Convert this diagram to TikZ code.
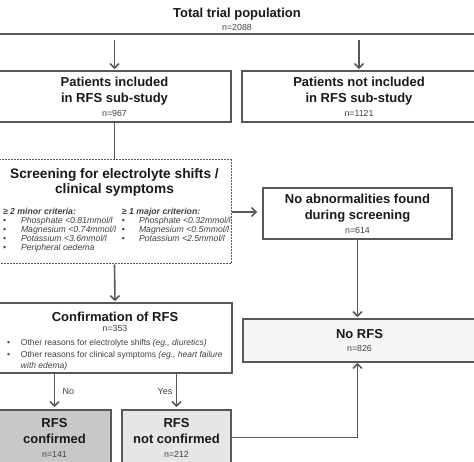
\documentclass[tikz,border=0pt]{standalone}
\usepackage{fontspec}
\setmainfont{Liberation Sans}
\usepackage{tikz}
\usetikzlibrary{arrows.meta}
\definecolor{linegray}{RGB}{88,88,88}
\definecolor{textdark}{RGB}{25,25,25}
\definecolor{textmid}{RGB}{65,65,65}
\definecolor{fillrfs}{RGB}{200,200,200}
\definecolor{fillnot}{RGB}{230,230,230}
\definecolor{fillno}{RGB}{245,245,245}
\newcommand{\boxtitle}{\fontsize{13}{15.5}\selectfont\bfseries\color{textdark}}
\newcommand{\nsize}{\fontsize{8.8}{10}\selectfont\mdseries\color{textmid}}
\newcommand{\itemsize}{\fontsize{8.7}{9}\selectfont\color{textmid}}
\newcommand{\confsize}{\fontsize{8.5}{10.3}\selectfont\color{textmid}}

\begin{document}
\begin{tikzpicture}[x=1pt, y=-1pt,
  flowbox/.style={draw=linegray, line width=1.6pt, fill=white, align=center, inner sep=0pt,
    font=\fontsize{13}{16.5}\selectfont\bfseries\color{textdark}},
  dashbox/.style={draw=linegray, line width=1pt, dash pattern=on 2pt off 1pt, fill=white, inner sep=0pt},
  arr/.style={draw=linegray, line width=1.6pt, -{Straight Barb[length=4.5pt,width=9pt]}},
  link/.style={draw=linegray, line width=1.6pt}]
  \useasboundingbox (0,0) rectangle (474,462);

  % top row
  \node (total) [flowbox, minimum width=480pt, minimum height=36pt] at (237,16)
  {\parbox{300pt}{\vspace*{6pt}\centering Total trial population\\[-3.5pt]{\nsize n=2088}}};

  \node (incl) [flowbox, minimum width=233pt, minimum height=51pt] at (114.5,96.5)
  {Patients included\\in RFS sub-study\\[-3pt]{\nsize n=967}};
  \node (notincl) [flowbox, minimum width=234pt, minimum height=51pt] at (359,96.5)
  {Patients not included\\in RFS sub-study\\[-3pt]{\nsize n=1121}};

  % screening
  \node (screen) [dashbox, minimum width=233pt, minimum height=104pt] at (114.5,212) {\parbox[c][104pt][t]{229pt}{%
    \vspace*{9pt}%
    \centering{\fontsize{13.7}{15}\selectfont\bfseries\color{textdark}Screening for electrolyte shifts /\\clinical symptoms\par}%
    \vspace{2.5pt}\raggedright
    \begin{minipage}[t]{119pt}\itemsize
      \begin{tabular}[t]{@{\hspace{3pt}}p{18pt}@{}l@{}}
      \multicolumn{2}{@{\hspace{3pt}}l@{}}{\bfseries\itshape ≥ 2 minor criteria:}\\
      \textbullet & \itshape Phosphate <0.81mmol/l\\
      \textbullet & \itshape Magnesium <0.74mmol/l\\
      \textbullet & \itshape Potassium <3.6mmol/l\\
      \textbullet & \itshape Peripheral oedema
      \end{tabular}
    \end{minipage}%
    \begin{minipage}[t]{110pt}\itemsize
      \begin{tabular}[t]{@{\hspace{3pt}}p{17pt}@{}l@{}}
      \multicolumn{2}{@{\hspace{3pt}}l@{}}{\bfseries\itshape ≥ 1 major criterion:}\\
      \textbullet & \itshape Phosphate <0.32mmol/l\\
      \textbullet & \itshape Magnesium <0.5mmol/l\\
      \textbullet & \itshape Potassium <2.5mmol/l
      \end{tabular}
    \end{minipage}}};

  \node (noab) [flowbox, minimum width=189pt, minimum height=51pt] at (357.5,213.5)
  {No abnormalities found\\during screening\\[-3pt]{\nsize n=614}};

  % confirmation
  \node (conf) [flowbox, minimum width=234pt, minimum height=70pt] at (115,338) {\parbox[c][70pt][t]{228pt}{%
    \vspace*{9pt}%
    \centering{\boxtitle Confirmation of RFS\par}{\nsize n=353\par}%
    \vspace{3.7pt}\raggedright\confsize\mdseries
    \begin{tabular}[t]{@{\hspace{6pt}}p{14pt}@{}l@{}}
    \textbullet & Other reasons for electrolyte shifts \textit{(eg., diuretics)}\\[2.2pt]
    \textbullet & Other reasons for clinical symptoms \textit{(eg., heart failure}\\
    & \textit{with edema)}
    \end{tabular}}};

  \node (norfs) [flowbox, fill=fillno, minimum width=233pt, minimum height=43pt] at (359.5,340.5)
  {No RFS\\[-3pt]{\nsize n=826}};

  \node (rfsc) [flowbox, fill=fillrfs, minimum width=113pt, minimum height=55pt] at (54.5,437.5)
  {RFS\\confirmed\\[-3pt]{\nsize n=141}};
  \node (rfsnc) [flowbox, fill=fillnot, minimum width=109pt, minimum height=55pt] at (176.5,437.5)
  {RFS\\not confirmed\\[-3pt]{\nsize n=212}};

  % connectors
  \draw[arr, shorten <=5pt, shorten >=1pt] (total.south -| incl.north) -- (incl.north);
  \draw[arr, shorten <=5pt, shorten >=1pt] (total.south -| notincl.north) -- (notincl.north);
  \draw[link] (incl.south) -- (screen.north);
  \draw[arr, shorten >=5pt] (screen.east) -- (screen.east -| noab.west);
  \draw[arr, shorten >=1pt] (screen.south) -- (conf.north);
  \draw[arr, shorten >=1pt] (noab.south) -- (noab.south |- norfs.north);
  \draw[arr, shorten >=2pt] (conf.south -| rfsc.north) -- node[right, xshift=4pt, font=\fontsize{9}{10}\selectfont\color{textmid}] {No} (rfsc.north);
  \draw[arr, shorten >=2pt] (conf.south -| rfsnc.north) -- node[left, font=\fontsize{9}{10}\selectfont\color{textmid}] {Yes} (rfsnc.north);
  \draw[arr] (rfsnc.east) -| (noab.south |- norfs.south);
\end{tikzpicture}
\end{document}
